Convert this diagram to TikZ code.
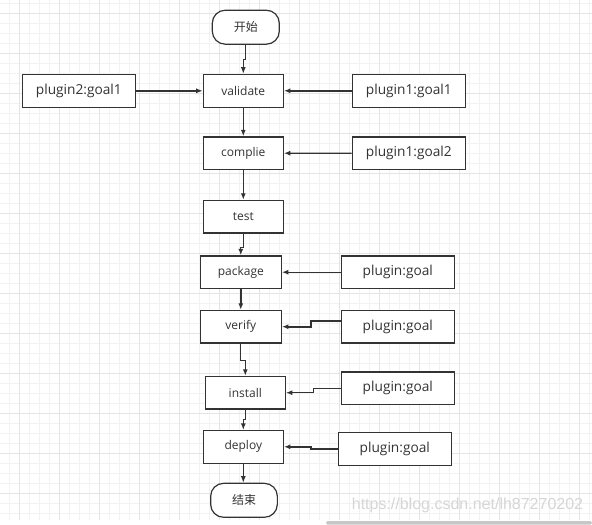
\documentclass[tikz,border=0pt]{standalone}
\usepackage{fontspec}
\setmainfont{Open Sans}
\newfontfamily\cjk{Noto Sans CJK SC}
\newfontfamily\wmfont{Liberation Sans}
\usetikzlibrary{arrows.meta,calc}
\definecolor{ink}{HTML}{333333}
\definecolor{gridminor}{HTML}{F2F2F2}
\definecolor{gridmajor}{HTML}{E4E4E4}
\tikzset{
  stagebox/.style={draw=ink, line width=1.2pt, fill=white, text=ink, inner sep=0pt,
    minimum width=80pt, minimum height=32.6pt, font=\fontsize{12}{14}\selectfont},
  goalbox/.style={stagebox, minimum width=113pt, font=\fontsize{13.7}{16}\selectfont},
  termbox/.style={stagebox, rounded corners=13pt, minimum width=67pt, minimum height=34pt,
    font=\cjk\fontsize{12}{14}\selectfont},
  arr/.style={draw=ink, line width=1.2pt, -{Latex[length=6.5pt,width=5pt]}},
  arrthick/.style={arr, line width=2.2pt},
}
\begin{document}
\begin{tikzpicture}[x=1pt,y=-1pt]
\useasboundingbox (0,0) rectangle (592,525);
\fill[white] (0,0) rectangle (592,525);
% grid
\foreach \i in {0,...,58} \draw[gridminor, line width=0.9pt] (9.5+10*\i,0) -- (9.5+10*\i,520);
\foreach \i in {0,...,51} \draw[gridminor, line width=0.9pt] (0,3.3+10*\i) -- (592,3.3+10*\i);
\foreach \i in {0,...,14} \draw[gridmajor, line width=1pt] (19.5+40*\i,0) -- (19.5+40*\i,520);
\foreach \i in {0,...,12} \draw[gridmajor, line width=1pt] (0,13.3+40*\i) -- (592,13.3+40*\i);
% scrollbar
\fill[black!22, rounded corners=1.5pt] (326,521) rectangle (592,524.6);
% watermark
\node[text=black!16, font=\wmfont\fontsize{16}{18}\selectfont, anchor=base, inner sep=0pt] (wm) at (467.5,509) {https://blog.csdn.net/lh87270202};

% main column
\node[termbox] (start) at (245.8,27.2) {开始};
\node[stagebox, minimum height=33pt] (validate) at (243.3,90.8) {validate};
\node[stagebox] (compile) at (243.3,153.2) {complie};
\node[stagebox] (test) at (243.3,216.7) {test};
\node[stagebox, minimum width=81pt] (package) at (240.8,272.2) {package};
\node[stagebox, minimum width=81pt] (verify) at (240.8,326.7) {verify};
\node[stagebox] (install) at (245.3,392.7) {install};
\node[stagebox] (deploy) at (243.3,446.8) {deploy};
\node[termbox, minimum width=66.7pt] (end) at (244,500.3) {结束};

% plugin goals
\node[goalbox, minimum height=33pt] (p2g1) at (78.8,90.8) {plugin2:goal1};
\node[goalbox, minimum height=33pt] (p1g1) at (408.8,90.8) {plugin1:goal1};
\node[goalbox] (p1g2) at (408.8,153.3) {plugin1:goal2};
\node[goalbox] (pg1) at (397.8,272.2) {plugin:goal};
\node[goalbox] (pg2) at (397.8,326.7) {plugin:goal};
\node[goalbox] (pg3) at (397.8,388.3) {plugin:goal};
\node[goalbox, minimum height=33pt] (pg4) at (394.8,448.8) {plugin:goal};

% main flow
\draw[arr] (start.south) -- +(0,15) -| (validate.north);
\draw[arr] (validate.south) -- (compile.north);
\draw[arr] (compile.south) -- (test.north);
\draw[arr] (test.south) -- +(0,14) -| (package.north);
\draw[arrthick] (package.south) -- (verify.north);
\draw[arr] (verify.south) -- +(0,17) -| (install.north);
\draw[arr] (install.south) -- +(0,10) -| (deploy.north);
\draw[arr] (deploy.south) -- (deploy.south |- end.north);

% goal bindings
\draw[arrthick] (p2g1.east) -- (validate.west);
\draw[arrthick] (p1g1.west) -- (validate.west -| validate.east);
\draw[arr] (p1g2.west) -- (compile.east);
\draw[arr] (pg1.west) -- (package.east);
\draw[arrthick] ($(pg2.west)+(0,-6)$) -- ++(-29.6,0) |- (verify.east);
\draw[arr] (pg3.west) -- ++(-27.3,0) |- (install.east);
\draw[arrthick] (pg4.west) -- ++(-26.6,0) |- (deploy.east);
\end{tikzpicture}
\end{document}
